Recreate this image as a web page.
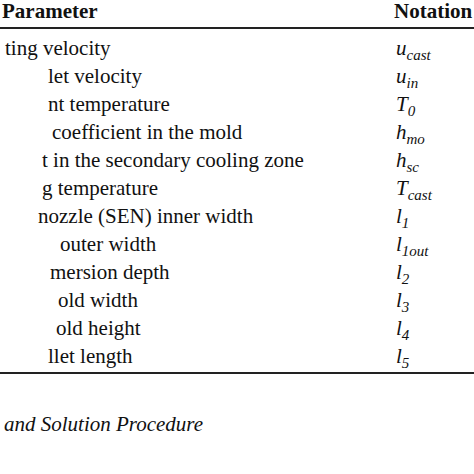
<!DOCTYPE html>
<html><head><meta charset="utf-8">
<script src="https://cdn.jsdelivr.net/npm/chart.js@4"></script>
<style>
body{margin:0;width:474px;height:474px;overflow:hidden;background:#fff;font-family:"Liberation Serif","DejaVu Serif",serif;color:#111;position:relative}
.t{position:absolute;font-size:21px;white-space:nowrap;line-height:1}
.rule{position:absolute;left:0;width:474px;background:#222}
i sub{font-size:15px}
</style></head><body>
<div id="page"></div>
<script>
const labels = ['ting velocity','let velocity','nt temperature','coefficient in the mold','t in the secondary cooling zone','g temperature','nozzle (SEN) inner width','outer width','mersion depth','old width','old height','llet length'];
const labelX = [5,48,48,52,42,42,38,60,50,58,56,48];
const symbols = ['u','u','T','h','h','T','l','l','l','l','l','l'];
const subs = ['cast','in','0','mo','sc','cast','1','1out','2','3','4','5'];
const page = document.getElementById('page');
function add(html, x, y) {
  const d = document.createElement('div');
  d.className = 't'; d.innerHTML = html;
  d.style.left = x + 'px'; d.style.top = y + 'px';
  page.appendChild(d);
}
add('<b>Parameter</b>', 2, 1);
add('<b>Notation</b>', 394, 1);
const r1 = document.createElement('div'); r1.className='rule'; r1.style.top='27px'; r1.style.height='1.5px'; page.appendChild(r1);
labels.forEach((l, i) => {
  const y = 38 + i * 28;
  add(l, labelX[i], y);
  const s = subs[i];
  const subHtml = /^\d+$/.test(s) ? s : (s === '1out' ? '1<i>out</i>' : '<i>' + s + '</i>');
  add('<i>' + symbols[i] + '<sub>' + subHtml + '</sub></i>', 396, y);
});
const r2 = document.createElement('div'); r2.className='rule'; r2.style.top='372px'; r2.style.height='1.5px'; page.appendChild(r2);
add('<i>and Solution Procedure</i>', 4, 414);
</script>
</body></html>
